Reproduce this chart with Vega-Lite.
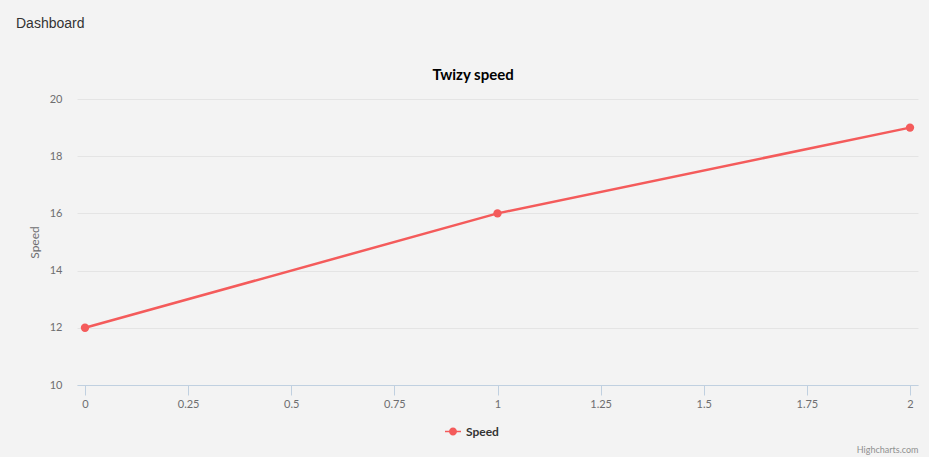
{
  "$schema": "https://vega.github.io/schema/vega-lite/v6.json",
  "background": "#f3f3f3",
  "padding": {"left": 16, "top": 17, "right": 11, "bottom": 3},
  "title": {
    "text": "Dashboard",
    "anchor": "start",
    "frame": "group",
    "dx": -61,
    "font": "Liberation Sans",
    "fontSize": 14,
    "fontWeight": "normal",
    "color": "#333333",
    "offset": 37
  },
  "vconcat": [
    {
      "width": 841,
      "height": 286,
      "title": {
        "text": "Twizy speed",
        "anchor": "middle",
        "frame": "bounds",
        "font": "Lato",
        "fontSize": 15,
        "fontWeight": "bold",
        "color": "#000000",
        "baseline": "alphabetic",
        "offset": -2
      },
      "data": {
        "values": [
          {"x": 0, "speed": 12, "series": "Speed"},
          {"x": 1, "speed": 16, "series": "Speed"},
          {"x": 2, "speed": 19, "series": "Speed"}
        ]
      },
      "mark": {
        "type": "line",
        "strokeWidth": 2.5,
        "point": {"filled": true, "size": 70, "opacity": 1}
      },
      "encoding": {
        "x": {
          "field": "x",
          "type": "quantitative",
          "scale": {"domain": [-0.0194, 2.0194], "nice": false, "zero": false},
          "axis": {
            "title": "Highcharts.com",
            "titleAnchor": "end",
            "titleFont": "Lato",
            "titleFontSize": 9,
            "titleFontWeight": "normal",
            "titleColor": "#909090",
            "titlePadding": 36,
            "values": [0, 0.25, 0.5, 0.75, 1, 1.25, 1.5, 1.75, 2],
            "format": ".2~f",
            "grid": false,
            "domainColor": "#c0d0e0",
            "tickColor": "#c0d0e0",
            "tickSize": 10,
            "labelPadding": 3,
            "labelColor": "#6e6e70",
            "labelFont": "Lato",
            "labelFontSize": 11
          }
        },
        "y": {
          "field": "speed",
          "type": "quantitative",
          "scale": {"domain": [10, 20], "nice": false, "zero": false},
          "axis": {
            "title": "Speed",
            "titleFont": "Lato",
            "titleFontSize": 12,
            "titleFontWeight": "normal",
            "titleColor": "#6e6e70",
            "titlePadding": 8,
            "values": [10, 12, 14, 16, 18, 20],
            "grid": true,
            "gridColor": "#e4e4e4",
            "domain": false,
            "ticks": false,
            "tickSize": 0,
            "labelPadding": 15,
            "labelColor": "#6e6e70",
            "labelFont": "Lato",
            "labelFontSize": 11
          }
        },
        "color": {
          "field": "series",
          "type": "nominal",
          "scale": {"range": ["#f45b5b"]},
          "legend": {
            "title": null,
            "orient": "none",
            "legendX": 368,
            "legendY": 324.5,
            "padding": 0,
            "symbolType": "M-1,-0.1L1,-0.1L1,0.1L-1,0.1Z M-0.5,0A0.5,0.5 0 1,1 0.5,0A0.5,0.5 0 1,1 -0.5,0Z",
            "symbolSize": 256,
            "symbolFillColor": "#f45b5b",
            "symbolStrokeColor": "#f45b5b",
            "symbolStrokeWidth": 0,
            "symbolOpacity": 1,
            "labelFont": "Lato",
            "labelFontSize": 12,
            "labelFontWeight": "bold",
            "labelColor": "#333333",
            "labelOffset": 5
          }
        }
      }
    }
  ],
  "config": {
    "view": {"stroke": null},
    "font": "Lato"
  }
}
